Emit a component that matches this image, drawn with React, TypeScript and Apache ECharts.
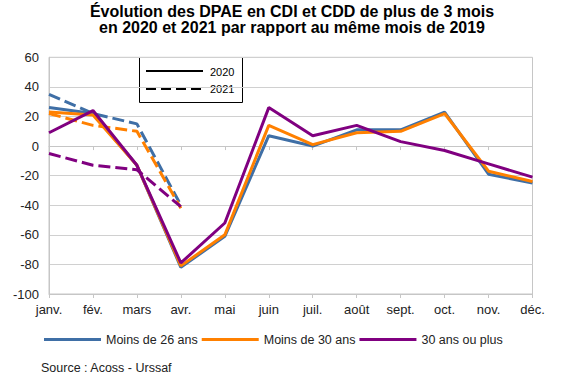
import React, { useEffect, useRef } from "react";
import * as echarts from "echarts";

const months = ["janv.", "fév.", "mars", "avr.", "mai", "juin", "juil.", "août", "sept.", "oct.", "nov.", "déc."];
const yTicks = { min: -100, max: 60, interval: 20 };

const moins26_2020 = [26, 22, -13, -82, -61, 7, 0, 11, 11, 23, -19, -25];
const moins30_2020 = [23, 21, -13, -81, -60, 14, 1, 9, 10, 22, -17, -24];
const plus30_2020 = [9, 24, -13, -79, -52, 26, 7, 14, 3, -3, -12, -21];

const moins26_2021 = [35, 22, 15, -40];
const moins30_2021 = [22, 14, 10, -42];
const plus30_2021 = [-5, -13, -16, -41];

const names = ["Moins de 26 ans", "Moins de 30 ans", "30 ans ou plus"];
const colors = ["#3f6fa6", "#ff8000", "#800080"];

const FONT = "'Liberation Sans', Arial, sans-serif";

export default function App() {
  const ref = useRef<HTMLDivElement>(null);
  useEffect(() => {
    document.body.style.margin = "0";
    if (!ref.current) return;
    const chart = echarts.init(ref.current, undefined, { renderer: "svg" });
    const solid = [moins26_2020, moins30_2020, plus30_2020];
    const dashed = [moins26_2021, moins30_2021, plus30_2021];
    const series: any[] = [];
    solid.forEach((d, i) => {
      series.push({
        name: names[i],
        type: "line",
        data: d,
        symbol: "none",
        xAxisIndex: 0,
        lineStyle: { color: colors[i], width: 3 },
        itemStyle: { color: colors[i] },
        z: 2 + i,
      });
    });
    dashed.forEach((d, i) => {
      series.push({
        name: names[i],
        type: "line",
        data: d,
        symbol: "none",
        xAxisIndex: 0,
        lineStyle: { color: colors[i], width: 3, type: [12, 5] },
        itemStyle: { color: colors[i] },
        z: 2 + i,
      });
    });
    chart.setOption({
      animation: false,
      textStyle: { fontFamily: FONT },
      title: {
        text: "Évolution des DPAE en CDI et CDD de plus de 3 mois\nen 2020 et 2021 par rapport au même mois de 2019",
        left: 292,
        top: 3,
        padding: 0,
        textAlign: "center",
        textStyle: { fontSize: 16, fontWeight: "bold", color: "#000", lineHeight: 16, fontFamily: FONT },
      },
      grid: {
        left: 49,
        right: 32.5,
        top: 57.3,
        bottom: 87,
        show: true,
        borderColor: "#c6c6c6",
        borderWidth: 1,
        containLabel: false,
      },
      legend: {
        data: names,
        left: 44,
        top: 333,
        padding: 0,
        itemWidth: 57,
        itemHeight: 3,
        itemGap: 4,
        icon: "rect",
        textStyle: { fontSize: 12.5, color: "#222", fontFamily: FONT },
      },
      xAxis: [
        {
          type: "category",
          data: months,
          boundaryGap: false,
          axisLine: { show: true, onZero: false, lineStyle: { color: "#c6c6c6" } },
          axisTick: { show: true, length: 4, lineStyle: { color: "#c6c6c6" } },
          axisLabel: { fontSize: 13, color: "#222", margin: 9, fontFamily: FONT, interval: 0 },
          splitLine: { show: false },
        },
        {
          type: "category",
          data: months,
          boundaryGap: false,
          position: "bottom",
          axisLine: { show: true, onZero: true, lineStyle: { color: "#c6c6c6" } },
          axisTick: { show: true, length: 4, lineStyle: { color: "#c6c6c6" } },
          axisLabel: { show: false },
          splitLine: { show: false },
        },
      ],
      yAxis: {
        type: "value",
        min: yTicks.min,
        max: yTicks.max,
        interval: yTicks.interval,
        axisLine: { show: true, lineStyle: { color: "#c6c6c6" } },
        axisTick: { show: false },
        axisLabel: { fontSize: 13, color: "#222", margin: 10, fontFamily: FONT },
        splitLine: { show: true, lineStyle: { color: "#d0d0d0", width: 1 } },
      },
      graphic: [
        {
          type: "group",
          z: 100,
          children: [
            { type: "rect", shape: { x: 139.5, y: 57.5, width: 103, height: 45 }, style: { fill: "#fff", stroke: "#000", lineWidth: 1 } },
            { type: "line", shape: { x1: 146, y1: 71, x2: 203, y2: 71 }, style: { stroke: "#000", lineWidth: 2 } },
            { type: "line", shape: { x1: 146, y1: 89, x2: 203, y2: 89 }, style: { stroke: "#000", lineWidth: 2, lineDash: [10, 5] } },
            { type: "text", x: 210, y: 72, style: { text: "2020", fontSize: 11, fill: "#000", verticalAlign: "middle", fontFamily: FONT } },
            { type: "text", x: 210, y: 89, style: { text: "2021", fontSize: 11, fill: "#000", verticalAlign: "middle", fontFamily: FONT } },
          ],
        },
        {
          type: "text",
          x: 41,
          y: 368,
          style: { text: "Source : Acoss - Urssaf", fontSize: 12.5, fill: "#222", verticalAlign: "middle", fontFamily: FONT },
        },
      ],
      series,
    });
    return () => chart.dispose();
  }, []);
  return <div ref={ref} style={{ width: 565, height: 381 }} />;
}
